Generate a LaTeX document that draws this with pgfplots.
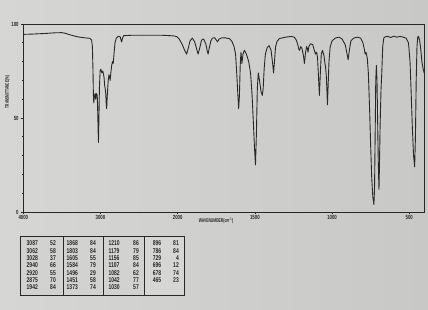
\documentclass[border=0pt]{standalone}
\usepackage{pgfplots}
\pgfplotsset{compat=1.18}
\usepackage{pgfplotstable}
\usepackage{fontspec}
\setmainfont{Liberation Sans}
\newfontfamily\plotfont[FakeStretch=0.72]{Liberation Sans}
\newfontfamily\labfont[FakeStretch=0.62]{Liberation Sans}
\definecolor{paper}{RGB}{200,200,198}
\definecolor{paperL}{RGB}{214,214,212}
\definecolor{tabbg}{RGB}{210,210,208}
\definecolor{ink}{RGB}{40,40,40}

\pgfplotstableread{
w T
4000 94.5
3900 94.6
3800 94.8
3700 95.0
3600 95.3
3500 95.4
3450 95.0
3400 94.3
3300 93.2
3200 92.6
3140 92.4
3115 91.5
3105 88
3097 75
3092 62
3087 58
3080 61
3070 63
3062 60
3052 63
3042 62
3035 52
3030 42
3026 37
3021 48
3014 66
3005 75
2995 76
2983 74
2970 75
2955 72
2945 67
2940 66
2932 63
2925 57
2920 55
2912 62
2900 70
2890 73
2882 72
2875 70
2866 74
2855 78
2845 80
2835 79
2825 84
2812 90
2795 92.5
2770 93.5
2745 93.2
2735 91.5
2725 90.5
2715 92.5
2700 93.8
2600 94
2400 94
2200 94
2100 93.8
2040 93.6
2010 93.2
1990 92
1970 89
1955 86
1942 84
1932 87
1920 91
1905 92.5
1890 90.5
1878 87
1868 84
1858 87
1845 91.5
1832 92
1818 89.5
1808 85.5
1803 84
1796 87
1785 91
1775 92.5
1760 92.7
1750 91.5
1742 90.5
1732 92
1715 92.6
1690 92.6
1665 92.2
1650 91
1635 88
1625 84
1617 73
1610 62
1605 55
1600 62
1595 78
1590 85
1584 79
1577 84
1568 86
1555 84
1540 80
1528 74
1518 62
1510 48
1503 35
1496 25
1490 42
1484 66
1478 74
1470 70
1460 64
1452 62
1446 66
1440 76
1432 84
1420 87.5
1408 88.5
1395 86
1385 79
1379 74
1373 80
1366 88
1355 91
1340 92.3
1300 93
1265 93.4
1245 93
1232 91.5
1222 89
1215 86.5
1210 86
1203 88
1195 87
1185 83
1179 79
1173 84
1165 88
1160 87
1156 85
1150 88
1140 89.5
1125 89
1115 86
1107 84
1100 85
1094 82
1088 72
1082 62
1077 72
1070 84
1062 86
1052 83
1046 79
1042 77
1037 72
1033 64
1030 57
1026 66
1020 80
1012 88
1000 91
980 92.5
955 93
935 92
915 89
905 85
896 81
888 86
878 91
860 92.5
835 93
815 92.5
800 90
792 87
786 84
780 85
772 82
765 74
757 55
750 35
743 18
736 8
729 4
725 12
721 40
717 70
713 78
709 70
705 50
701 28
697 14
696 12
693 25
689 45
683 65
678 74
672 88
665 92.5
660 93
640 93.5
620 92.8
600 93.5
580 93
560 93.4
540 93
520 92.5
505 90
495 80
487 62
480 45
472 30
465 24
460 40
455 70
450 88
445 93
440 93.5
432 91
425 86
418 80
410 76
400 73
}\spec

\begin{document}
\begin{tikzpicture}
\shade[left color=paperL,right color=paper] (0bp,0bp) rectangle (428bp,310bp);
\begin{axis}[
  at={(23.3bp,98bp)}, anchor=south west,
  scale only axis, width=401.4bp, height=188bp,
  xmin=0, xmax=5.2, ymin=0, ymax=100,
  axis line style={ink, line width=0.8pt},
  xtick={0,1,2,3,4,5},
  xticklabels={4000,3000,2000,1500,1000,500},
  minor xtick={0.5,1.5,2.2,2.4,2.6,2.8,3.2,3.4,3.6,3.8,4.2,4.4,4.6,4.8},
  ytick={0,50,100},
  yticklabels={0,50,100},
  minor ytick={10,20,30,40,60,70,80,90},
  xtick pos=bottom, ytick pos=left,
  tick align=outside,
  major tick length=2.5bp, minor tick length=1.5bp,
  tick style={ink, line width=0.6pt},
  tick label style={font=\plotfont\bfseries\fontsize{6}{6}\selectfont, text=ink, inner sep=1pt},
  xticklabel style={yshift=0.5bp},
  yticklabel style={xshift=-1bp},
]
\addplot[ink, line width=0.9pt, line join=round]
  table[x expr={ifthenelse(\thisrow{w}>=2000,(4000-\thisrow{w})/1000,2+(2000-\thisrow{w})/500)}, y=T] {\spec};
\end{axis}

\node[rotate=90, font=\labfont\bfseries\fontsize{5.2}{5.2}\selectfont, text=ink, inner sep=0pt] at (7.5bp,218bp) {TRANSMITTANCE(\%)};
\node[font=\labfont\bfseries\fontsize{5.5}{5.5}\selectfont, text=ink, inner sep=0pt] at (216bp,89bp) {WAVENUMBER(cm\textsuperscript{-1})};

% table box
\fill[tabbg] (20.7bp,15bp) rectangle (184.3bp,73.3bp);
\fill[paperL] (144.3bp,15bp) rectangle (184.3bp,73.3bp);
\draw[ink, line width=0.7pt] (20.7bp,15bp) rectangle (184.3bp,73.3bp);
\foreach \xx in {63.3,103.3,144.3} {\draw[ink, line width=0.7pt] (\xx bp,15bp) -- (\xx bp,73.3bp);}

\begin{scope}[every node/.style={font=\plotfont\bfseries\fontsize{7}{7}\selectfont, text=ink, inner sep=0pt}]
\foreach \a/\b [count=\i from 0] in {3087/52,3062/58,3028/37,2940/66,2920/55,2875/70,1942/84} {
  \node[anchor=west] at ({26.5bp},{(66.7-7.37*\i)*1bp}) {\a};
  \node[anchor=east] at ({56bp},{(66.7-7.37*\i)*1bp}) {\b};
}
\foreach \a/\b [count=\i from 0] in {1868/84,1803/84,1605/55,1584/79,1496/29,1451/58,1373/74} {
  \node[anchor=west] at ({66.5bp},{(66.7-7.37*\i)*1bp}) {\a};
  \node[anchor=east] at ({96bp},{(66.7-7.37*\i)*1bp}) {\b};
}
\foreach \a/\b [count=\i from 0] in {1210/86,1179/79,1156/85,1107/84,1082/62,1042/77,1030/57} {
  \node[anchor=west] at ({108.3bp},{(66.7-7.37*\i)*1bp}) {\a};
  \node[anchor=east] at ({139bp},{(66.7-7.37*\i)*1bp}) {\b};
}
\foreach \a/\b [count=\i from 0] in {896/81,786/84,729/4,696/12,678/74,465/23} {
  \node[anchor=west] at ({152.7bp},{(66.7-7.37*\i)*1bp}) {\a};
  \node[anchor=east] at ({179bp},{(66.7-7.37*\i)*1bp}) {\b};
}
\end{scope}
\end{tikzpicture}
\end{document}
